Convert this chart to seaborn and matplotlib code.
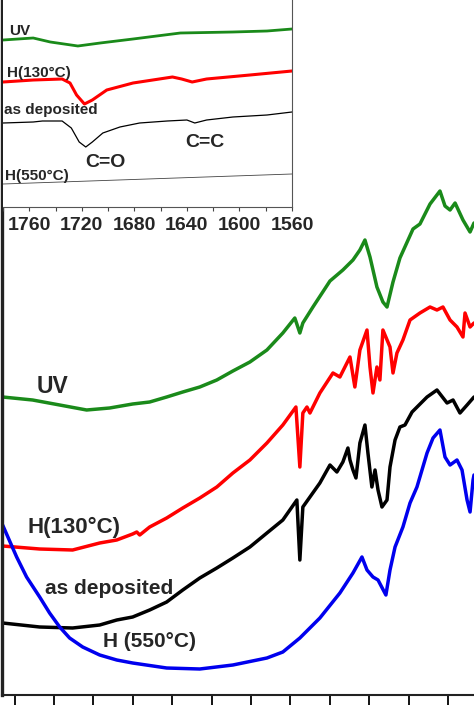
import numpy as np
import pandas as pd
import matplotlib
matplotlib.use("Agg")
import matplotlib.pyplot as plt
import seaborn as sns

sns.set_style("white")
plt.rcParams['font.family'] = ['Liberation Sans', 'DejaVu Sans']
plt.rcParams['font.weight'] = 'bold'

# ---- main spectra (wavenumber, cm-1 ; absorbance, a.u. with offsets) ----
uv_wn = [3826, 3636, 3464, 3293, 3147, 3001, 2893, 2785, 2683, 2575, 2467, 2365,
         2257, 2149, 2048, 1972, 1940, 1921, 1857, 1749, 1667, 1603, 1559, 1527,
         1495, 1451, 1413, 1387, 1349, 1305, 1222, 1178, 1114, 1051, 1019, 987,
         955, 905, 860, 835]
uv_abs = [2.98, 2.95, 2.90, 2.85, 2.87, 2.91, 2.93, 2.98, 3.03, 3.08, 3.15, 3.24,
          3.33, 3.45, 3.62, 3.77, 3.62, 3.72, 3.88, 4.14, 4.25, 4.35, 4.45, 4.55,
          4.38, 4.08, 3.93, 3.88, 4.13, 4.37, 4.66, 4.71, 4.91, 5.04, 4.89, 4.85,
          4.92, 4.75, 4.63, 4.72]

h130_wn = [3826, 3591, 3382, 3210, 3102, 3001, 2975, 2956, 2893, 2785, 2683, 2575,
           2467, 2365, 2257, 2149, 2048, 1965, 1940, 1921, 1895, 1876, 1813, 1730,
           1686, 1622, 1591, 1559, 1514, 1495, 1476, 1451, 1432, 1413, 1368, 1349,
           1324, 1286, 1241, 1178, 1114, 1070, 1032, 987, 943, 905, 892, 860, 835]
h130_abs = [1.49, 1.46, 1.45, 1.52, 1.55, 1.61, 1.63, 1.60, 1.68, 1.77, 1.87, 1.97,
            2.08, 2.22, 2.35, 2.52, 2.70, 2.88, 2.28, 2.82, 2.88, 2.82, 3.02, 3.22,
            3.18, 3.38, 3.08, 3.45, 3.65, 3.28, 3.02, 3.28, 3.15, 3.65, 3.48, 3.22,
            3.42, 3.55, 3.75, 3.82, 3.88, 3.85, 3.88, 3.75, 3.68, 3.58, 3.82, 3.68,
            3.72]

dep_wn = [3826, 3591, 3382, 3210, 3102, 3001, 2893, 2785, 2683, 2575, 2467, 2365,
          2257, 2149, 2048, 1959, 1940, 1921, 1876, 1813, 1749, 1705, 1667, 1635,
          1622, 1603, 1584, 1559, 1527, 1508, 1483, 1463, 1444, 1419, 1387, 1368,
          1336, 1305, 1273, 1228, 1133, 1070, 1006, 968, 924, 879, 835]
dep_abs = [0.72, 0.68, 0.67, 0.70, 0.75, 0.78, 0.85, 0.93, 1.05, 1.17, 1.27, 1.37,
           1.48, 1.62, 1.75, 1.95, 1.35, 1.88, 1.98, 2.12, 2.30, 2.23, 2.33, 2.47,
           2.35, 2.25, 2.17, 2.52, 2.70, 2.42, 2.08, 2.25, 2.05, 1.88, 1.95, 2.28,
           2.55, 2.68, 2.70, 2.83, 2.98, 3.05, 2.92, 2.95, 2.82, 2.90, 2.98]

h550_wn = [3826, 3737, 3674, 3591, 3528, 3464, 3401, 3318, 3210, 3102, 3001, 2785,
           2575, 2365, 2149, 2048, 1940, 1813, 1686, 1603, 1546, 1514, 1476, 1444,
           1394, 1368, 1336, 1286, 1241, 1197, 1133, 1095, 1051, 1019, 987, 943,
           911, 879, 860, 841, 835]
h550_abs = [1.70, 1.38, 1.18, 0.98, 0.82, 0.68, 0.57, 0.48, 0.40, 0.35, 0.32, 0.27,
            0.26, 0.30, 0.37, 0.43, 0.57, 0.77, 1.02, 1.22, 1.38, 1.25, 1.18, 1.15,
            1.00, 1.25, 1.48, 1.68, 1.92, 2.08, 2.42, 2.57, 2.65, 2.38, 2.30, 2.35,
            2.25, 1.95, 1.83, 2.15, 2.20]

# ---- inset: C=O / C=C region ----
in_uv_wn = [1780, 1757, 1744, 1723, 1706, 1681, 1645, 1605, 1579, 1560]
in_uv_abs = [1.67, 1.69, 1.65, 1.61, 1.64, 1.68, 1.74, 1.75, 1.76, 1.78]

in_h130_wn = [1780, 1757, 1735, 1729, 1724, 1718, 1712, 1701, 1681, 1651, 1644,
              1636, 1625, 1592, 1560]
in_h130_abs = [1.25, 1.27, 1.28, 1.24, 1.12, 1.03, 1.07, 1.17, 1.24, 1.30, 1.28,
               1.25, 1.28, 1.32, 1.36]

in_dep_wn = [1780, 1757, 1750, 1735, 1728, 1722, 1717, 1712, 1704, 1691, 1676,
             1655, 1640, 1634, 1625, 1605, 1579, 1560]
in_dep_abs = [0.84, 0.85, 0.86, 0.86, 0.79, 0.65, 0.60, 0.65, 0.74, 0.80, 0.84,
              0.86, 0.87, 0.84, 0.87, 0.90, 0.92, 0.95]

in_h550_wn = [1780, 1670, 1560]
in_h550_abs = [0.23, 0.28, 0.33]

inset_ticks = [1760, 1720, 1680, 1640, 1600, 1560]

main_df = pd.concat([
    pd.DataFrame({'wn': uv_wn, 'abs': uv_abs, 'sample': 'UV'}),
    pd.DataFrame({'wn': h130_wn, 'abs': h130_abs, 'sample': 'H130'}),
    pd.DataFrame({'wn': dep_wn, 'abs': dep_abs, 'sample': 'dep'}),
    pd.DataFrame({'wn': h550_wn, 'abs': h550_abs, 'sample': 'H550'}),
])
colors = {'UV': '#1a8a1a', 'H130': '#ff0000', 'dep': '#000000', 'H550': '#0000ee'}

fig = plt.figure(figsize=(4.74, 7.05), dpi=100)
ax = fig.add_axes([2 / 474, 10 / 705, 472 / 474, 695 / 705])

for name, grp in main_df.groupby('sample', sort=False):
    sns.lineplot(data=grp, x='wn', y='abs', ax=ax, color=colors[name], lw=2.5,
                 sort=False, estimator=None, legend=False,
                 solid_joinstyle='round', solid_capstyle='round')

ax.set_xlim(3830, 835)
ax.set_ylim(0, 6.95)
ax.set_xticks(np.arange(3750, 999, -250))
ax.set_yticks([])
ax.tick_params(axis='x', direction='out', length=8, width=1.3, labelbottom=False,
               bottom=True, color='black')
ax.set_xlabel('')
ax.set_ylabel('')
for s in ['top', 'right']:
    ax.spines[s].set_visible(False)
ax.spines['left'].set_linewidth(2.4)
ax.spines['bottom'].set_linewidth(1.5)
ax.spines['left'].set_color('#222222')
ax.spines['bottom'].set_color('#222222')

ax.text(3610, 3.02, 'UV', fontsize=16.5, fontweight='bold', va='baseline')
ax.text(3667, 1.62, 'H(130°C)', fontsize=16, fontweight='bold', va='baseline')
ax.text(3559, 1.01, 'as deposited', fontsize=15, fontweight='bold', va='baseline')
ax.text(3191, 0.48, 'H (550°C)', fontsize=15, fontweight='bold', va='baseline')

# inset
ins = fig.add_axes([3 / 474, 498 / 705, 289 / 474, 207 / 705])
ins.set_facecolor('white')
ins.plot(in_uv_wn, in_uv_abs, color='#1a8a1a', lw=2.0, solid_joinstyle='round')
ins.plot(in_h130_wn, in_h130_abs, color='#ff0000', lw=2.2, solid_joinstyle='round')
ins.plot(in_dep_wn, in_dep_abs, color='black', lw=0.9, solid_joinstyle='round')
ins.plot(in_h550_wn, in_h550_abs, color='#444444', lw=0.6)
ins.set_xlim(1780, 1560)
ins.set_ylim(0, 2.07)
ins.set_xticks(inset_ticks)
ins.set_xticks(np.arange(1780, 1559, -20), minor=True)
ins.set_yticks([])
ins.tick_params(axis='x', which='both', direction='out', length=3, width=0.8,
                labelsize=14, pad=4, bottom=True, color='#444444')
for lab in ins.get_xticklabels():
    lab.set_fontweight('bold')
ins.spines['top'].set_visible(False)
ins.spines['left'].set_visible(False)
ins.spines['right'].set_color('#555555')
ins.spines['bottom'].set_color('#555555')
ins.spines['right'].set_linewidth(0.8)
ins.spines['bottom'].set_linewidth(0.8)

ins.text(1775, 1.72, 'UV', fontsize=11, fontweight='bold', va='baseline')
ins.text(1777, 1.30, 'H(130°C)', fontsize=11, fontweight='bold', va='baseline')
ins.text(1779.5, 0.93, 'as deposited', fontsize=11, fontweight='bold', va='baseline')
ins.text(1778.5, 0.27, 'H(550°C)', fontsize=11, fontweight='bold', va='baseline')
ins.text(1717.5, 0.40, 'C=O', fontsize=14, fontweight='bold', va='baseline')
ins.text(1641.5, 0.60, 'C=C', fontsize=14, fontweight='bold', va='baseline')

fig.savefig('out.png', dpi=100)
